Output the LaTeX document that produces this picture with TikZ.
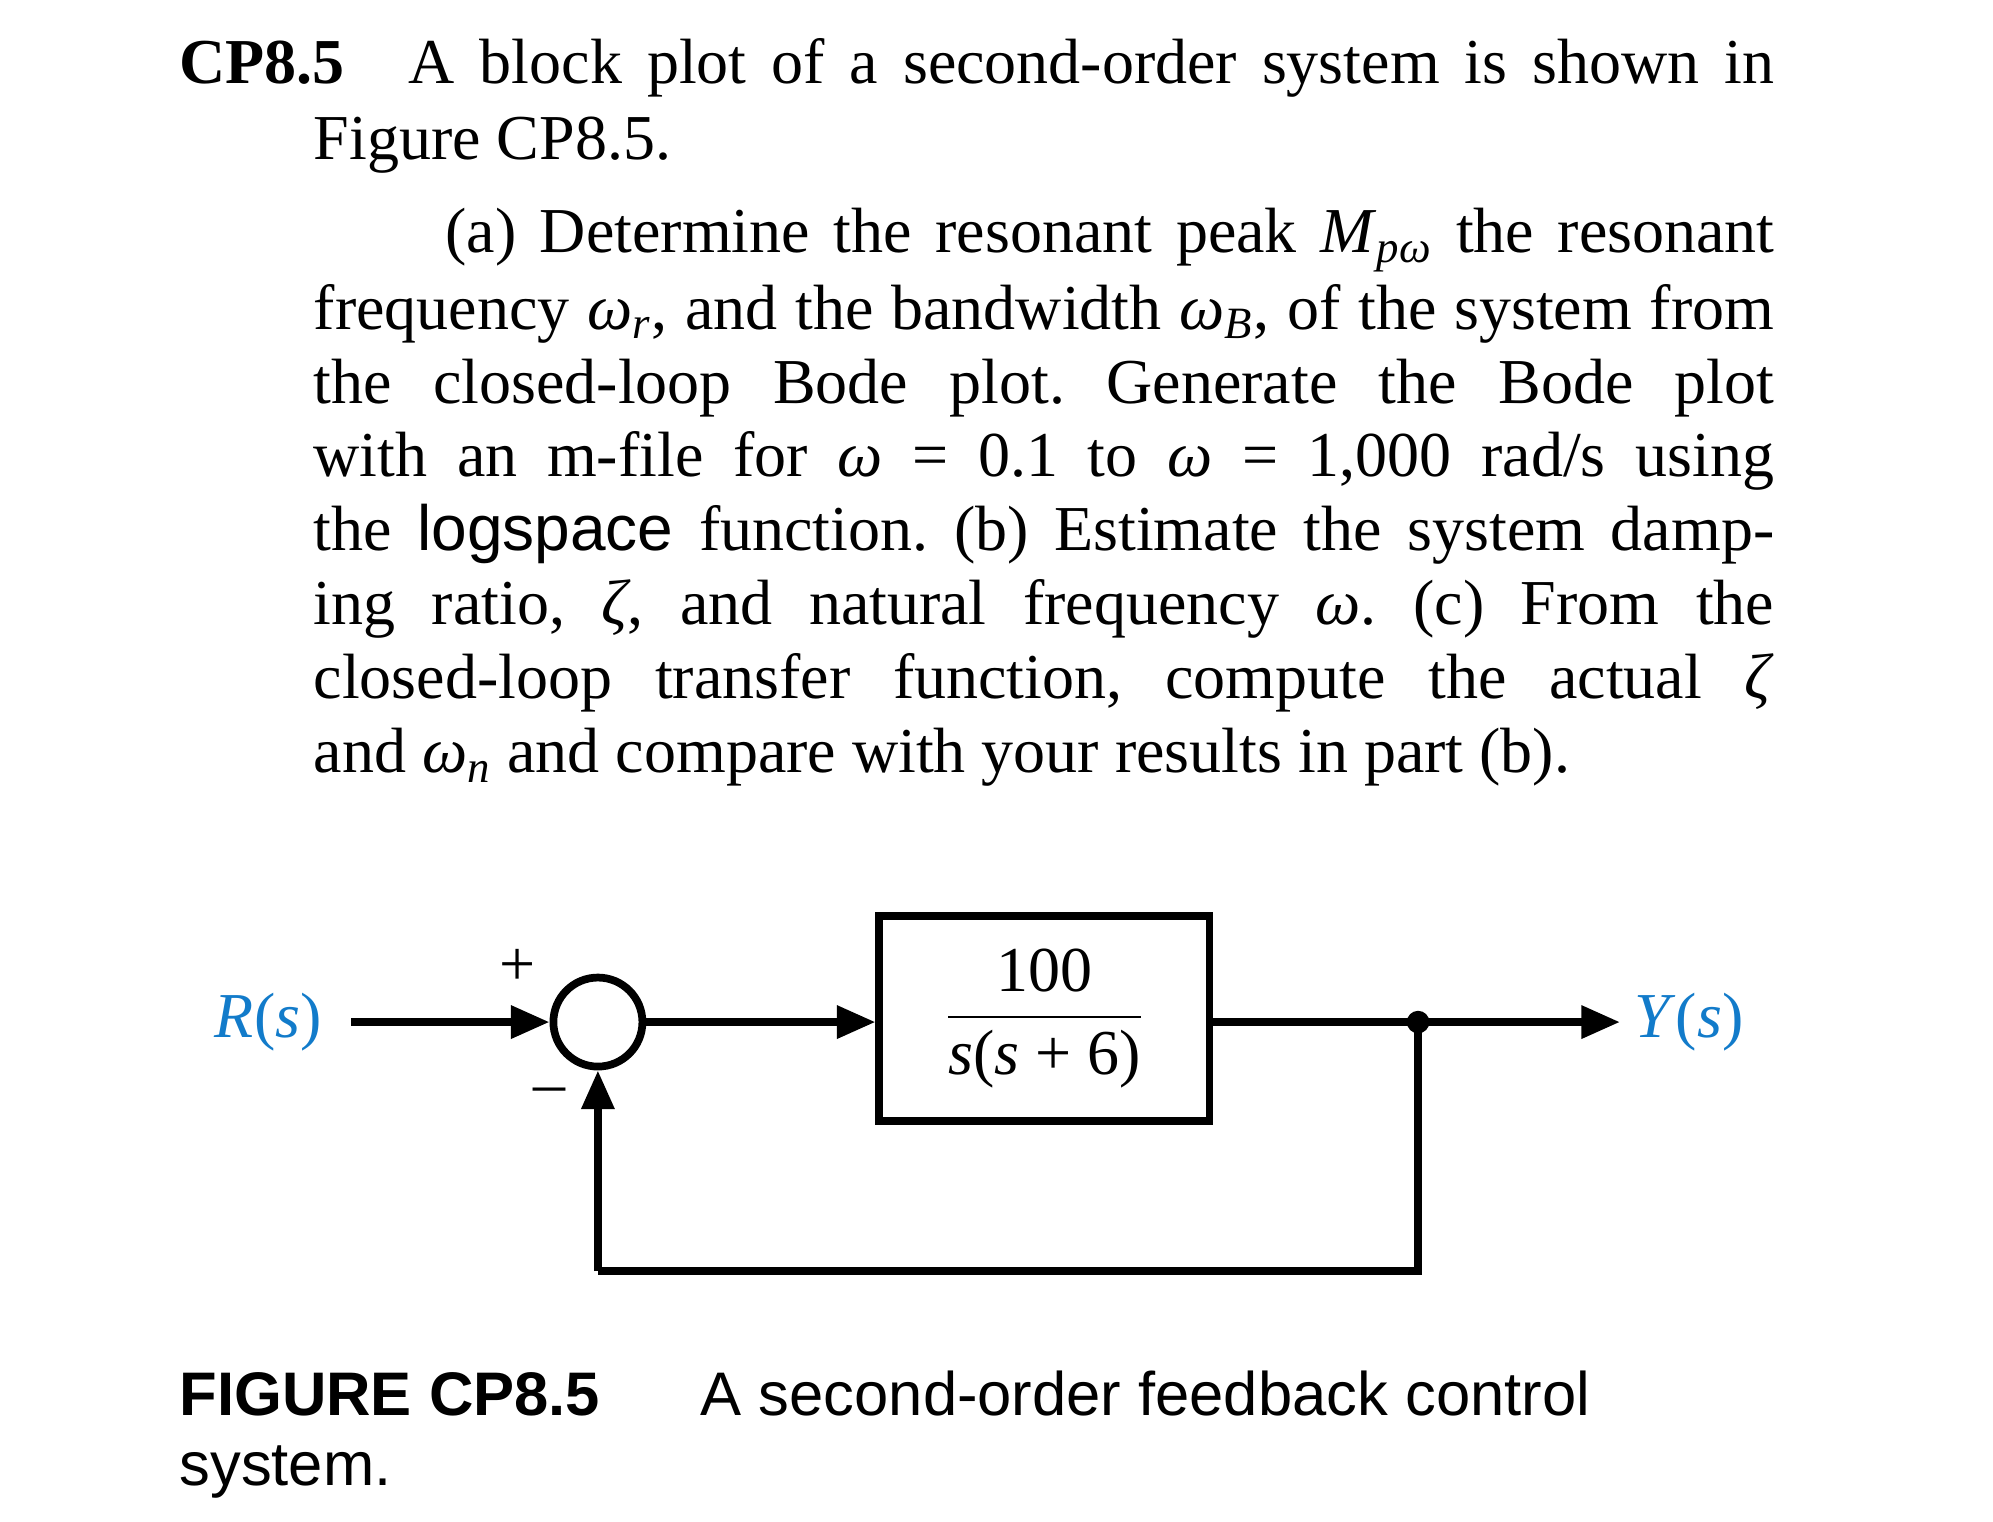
\documentclass[tikz,border=0pt]{standalone}
\usepackage{amsmath}
\usepackage{fontspec}
\setmainfont{Liberation Serif}
\newfontfamily\sans{Liberation Sans}
\usetikzlibrary{arrows.meta}
\begin{document}
\frenchspacing
\begin{tikzpicture}[x=0.012776cm,y=-0.012776cm,
  txt/.style={anchor=base west,inner sep=0pt,font=\fontsize{18.2}{21}\selectfont},
  captxt/.style={anchor=base west,inner sep=0pt,font=\sans\fontsize{17.5}{21}\selectfont},
  sig/.style={line width=2.2pt,-{Triangle[length=11pt,width=9pt]}},
  ln/.style={line width=2.2pt}]
\useasboundingbox (0,0) rectangle (1560,1191);
\newcommand{\jl}[2]{\makebox[#1cm][s]{#2}}
\newcommand{\w}{\textit{ω}}
\node[txt] (l1) at (140,65) {\jl{15.94}{\textbf{CP8.5}\quad A block plot of a second-order system is shown in}};
\node[txt] (l2) at (245,125) {Figure CP8.5.};
\node[txt] (l3) at (348,198) {\jl{13.29}{(a) Determine the resonant peak \textit{M}\textsubscript{\textit{pω}} the resonant}};
\node[txt] (l4) at (245,258) {\jl{14.6}{frequency \w\textsubscript{\textit{r}}, and the bandwidth \w\textsubscript{\textit{B}}, of the system from}};
\node[txt] (l5) at (245,316) {\jl{14.6}{the closed-loop Bode plot. Generate the Bode plot}};
\node[txt] (l6) at (245,373) {\jl{14.6}{with an m-file for \w\ = 0.1 to \w\ = 1,000 rad/s using}};
\node[txt] (l7) at (245,431) {\jl{14.6}{the {\sans logspace} function. (b) Estimate the system damp-}};
\node[txt] (l8) at (245,489) {\jl{14.6}{ing ratio, \textit{ζ}, and natural frequency \w. (c) From the}};
\node[txt] (l9) at (245,547) {\jl{14.6}{closed-loop transfer function, compute the actual \textit{ζ}}};
\node[txt] (l10) at (245,605) {and \w\textsubscript{\textit{n}} and compare with your results in part (b).};
% diagram
\node[font=\fontsize{18.2}{21}\selectfont,text=cyan!60!blue] (R) at (210,800) {\textit{R}(\textit{s})};
\node[font=\fontsize{18.2}{21}\selectfont,text=cyan!60!blue] (Y) at (1322,800) {\textit{Y}(\textit{s})};
\coordinate (rs) at (275,800);
\node[draw,circle,line width=2.2pt,inner sep=0pt,minimum size=0.89cm] (sum) at (468,800) {};
\node[draw,line width=2.2pt,minimum width=3.30cm,minimum height=2.05cm,font=\fontsize{18.2}{21}\selectfont] (G) at (817.5,797) {$\dfrac{\text{100}}{\text{\textit{s}(\textit{s} + 6)}}$};
\coordinate (ye) at (1268,800);
\coordinate (br) at (1110,800);
\coordinate (c1) at (1110,995);
\coordinate (c2) at (468,995);
\draw[sig] (rs) -- (sum.west);
\draw[sig] (sum.east) -- (G.west |- sum.east);
\draw[sig] (G.east |- br) -- (ye);
\fill (br) circle (3.2pt);
\draw[ln] (br) -- (c1) -- (c2);
\draw[sig] (c2) -- (sum.south);
\node[font=\fontsize{18.2}{21}\selectfont] (p) at (405,757) {+};
\node[font=\fontsize{18.2}{21}\selectfont] (m) at (430,858) {–};
% caption
\node[captxt] (f1) at (140,1108) {\textbf{FIGURE CP8.5}};
\node[captxt] (f2) at (548,1108) {A second-order feedback control};
\node[captxt] (f3) at (140,1163) {system.};
\end{tikzpicture}
\end{document}
